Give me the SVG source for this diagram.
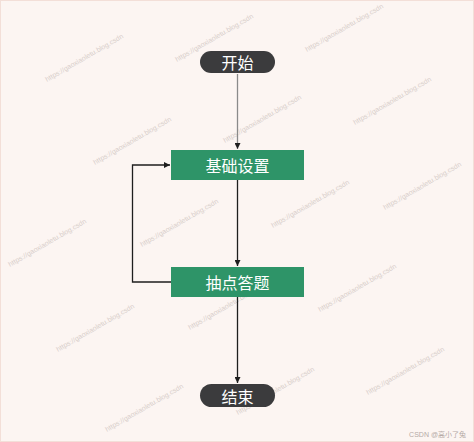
<svg xmlns="http://www.w3.org/2000/svg" width="474" height="442" viewBox="0 0 474 442">
<defs>
<marker id="arr" viewBox="0 0 10 10" refX="10" refY="5" markerWidth="6" markerHeight="6" orient="auto" markerUnits="userSpaceOnUse">
<path d="M0,0 L10,5 L0,10 z" fill="#1e1e1e"/>
</marker>
<style>
.pill{fill:#3b3b3d}
.box{fill:#2e9468}
.lbl{fill:#ffffff;font-family:"Noto Sans CJK SC","Noto Sans",sans-serif;font-size:16px;text-anchor:middle;dominant-baseline:central}
.ln{fill:none;stroke:#1e1e1e;stroke-width:1.3}
.wm{fill:#c9bdb9;font-family:"Liberation Sans",sans-serif;font-size:7px;opacity:0.7}
</style>
</defs>
<rect x="0" y="0" width="474" height="442" fill="#fcf5f2"/>
<rect x="0.5" y="0.5" width="473" height="441" fill="none" stroke="#f3dfd8" stroke-width="1"/>
<g id="watermarks">
<text class="wm" transform="translate(47,82) rotate(-30)">https://gaoxiaoletu.blog.csdn</text>
<text class="wm" transform="translate(177,62) rotate(-30)">https://gaoxiaoletu.blog.csdn</text>
<text class="wm" transform="translate(307,52) rotate(-30)">https://gaoxiaoletu.blog.csdn</text>
<text class="wm" transform="translate(95,165) rotate(-30)">https://gaoxiaoletu.blog.csdn</text>
<text class="wm" transform="translate(225,143) rotate(-30)">https://gaoxiaoletu.blog.csdn</text>
<text class="wm" transform="translate(355,125) rotate(-30)">https://gaoxiaoletu.blog.csdn</text>
<text class="wm" transform="translate(10,267) rotate(-30)">https://gaoxiaoletu.blog.csdn</text>
<text class="wm" transform="translate(142,247) rotate(-30)">https://gaoxiaoletu.blog.csdn</text>
<text class="wm" transform="translate(273,228) rotate(-30)">https://gaoxiaoletu.blog.csdn</text>
<text class="wm" transform="translate(385,210) rotate(-30)">https://gaoxiaoletu.blog.csdn</text>
<text class="wm" transform="translate(58,352) rotate(-30)">https://gaoxiaoletu.blog.csdn</text>
<text class="wm" transform="translate(190,330) rotate(-30)">https://gaoxiaoletu.blog.csdn</text>
<text class="wm" transform="translate(320,312) rotate(-30)">https://gaoxiaoletu.blog.csdn</text>
<text class="wm" transform="translate(107,432) rotate(-30)">https://gaoxiaoletu.blog.csdn</text>
<text class="wm" transform="translate(238,415) rotate(-30)">https://gaoxiaoletu.blog.csdn</text>
<text class="wm" transform="translate(368,395) rotate(-30)">https://gaoxiaoletu.blog.csdn</text>
</g>
<g id="connectors">
<line class="ln" x1="237.5" y1="74" x2="237.5" y2="149" style="stroke:#8a8a8a" marker-end="url(#arr)"/>
<line class="ln" x1="237.5" y1="180" x2="237.5" y2="266" marker-end="url(#arr)"/>
<line class="ln" x1="237.5" y1="297" x2="237.5" y2="383" marker-end="url(#arr)"/>
<polyline class="ln" points="171,282 132.5,282 132.5,165 170,165" marker-end="url(#arr)"/>
</g>
<g id="start">
<rect class="pill" x="200" y="51" width="75" height="22" rx="11"/>
<text class="lbl" x="237.5" y="62">开始</text>
</g>
<g id="setup">
<rect class="box" x="171" y="150" width="133" height="30"/>
<text class="lbl" x="237.5" y="165">基础设置</text>
</g>
<g id="answer">
<rect class="box" x="171" y="267" width="133" height="30"/>
<text class="lbl" x="237.5" y="282">抽点答题</text>
</g>
<g id="end">
<rect class="pill" x="200" y="384" width="75" height="23" rx="11.5"/>
<text class="lbl" x="237.5" y="395.5">结束</text>
</g>
<text x="466" y="437" text-anchor="end" font-family="'Liberation Sans','Noto Sans CJK SC',sans-serif" font-size="7" fill="#b5aaa6">CSDN @高小了兔</text>
</svg>
